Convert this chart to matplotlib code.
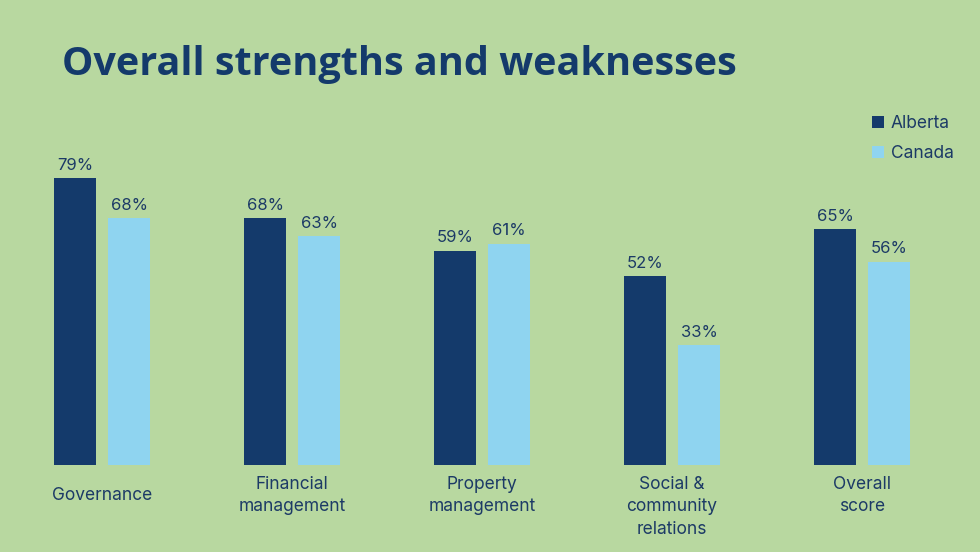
import matplotlib.pyplot as plt
import matplotlib.transforms as mtransforms
import numpy as np

# data
categories = ["Governance", "Financial\nmanagement", "Property\nmanagement",
              "Social &\ncommunity\nrelations", "Overall\nscore"]
alberta = [79, 68, 59, 52, 65]
canada = [68, 63, 61, 33, 56]

bg = "#b8d8a0"
navy = "#143a6b"
light = "#8fd4f0"
txt = "#1c3a66"

plt.rcParams['font.family'] = ['Inter', 'DejaVu Sans']

fig = plt.figure(figsize=(9.8, 5.52), dpi=100, facecolor=bg)
ax = fig.add_axes([0, 87 / 552, 1, 363 / 552])
ax.set_facecolor(bg)

x = np.arange(len(categories))
w = 42 / 190
off = 27 / 190
b1 = ax.bar(x - off, alberta, w, color=navy, label="Alberta")
b2 = ax.bar(x + off, canada, w, color=light, label="Canada")

for bars, vals in ((b1, alberta), (b2, canada)):
    for r, v in zip(bars, vals):
        ax.annotate(f"{v}%", (r.get_x() + r.get_width() / 2, v),
                    xytext=(0, 6), textcoords="offset points",
                    ha="center", va="baseline", fontsize=12, color=txt)

ax.set_xlim(-102 / 190, 878 / 190)
ax.set_ylim(0, 100)
ax.axis("off")

# category labels under the groups
trans = mtransforms.blended_transform_factory(ax.transData, fig.transFigure)
for i, lab in enumerate(categories):
    if "\n" in lab:
        ax.text(i, 1 - 476 / 552, lab, transform=trans, ha="center", va="top",
                fontsize=12.5, color=txt, linespacing=1.42)
    else:
        ax.text(i, 1 - 495 / 552, lab, transform=trans, ha="center", va="center",
                fontsize=12.5, color=txt)

fig.text(62 / 980, 1 - 75 / 552, "Overall strengths and weaknesses",
         family=['Open Sans', 'DejaVu Sans'], fontweight="bold", fontsize=28.5,
         color=navy, va="baseline", ha="left")

leg = ax.legend(loc="upper left", bbox_to_anchor=(865 / 980, 1 - 108 / 552),
                bbox_transform=fig.transFigure, frameon=False,
                handlelength=0.7, handleheight=0.7, handletextpad=0.4,
                labelspacing=0.75, fontsize=12.5, borderaxespad=0)
for t in leg.get_texts():
    t.set_color(txt)

fig.savefig("out.png", dpi=100, facecolor=bg)
